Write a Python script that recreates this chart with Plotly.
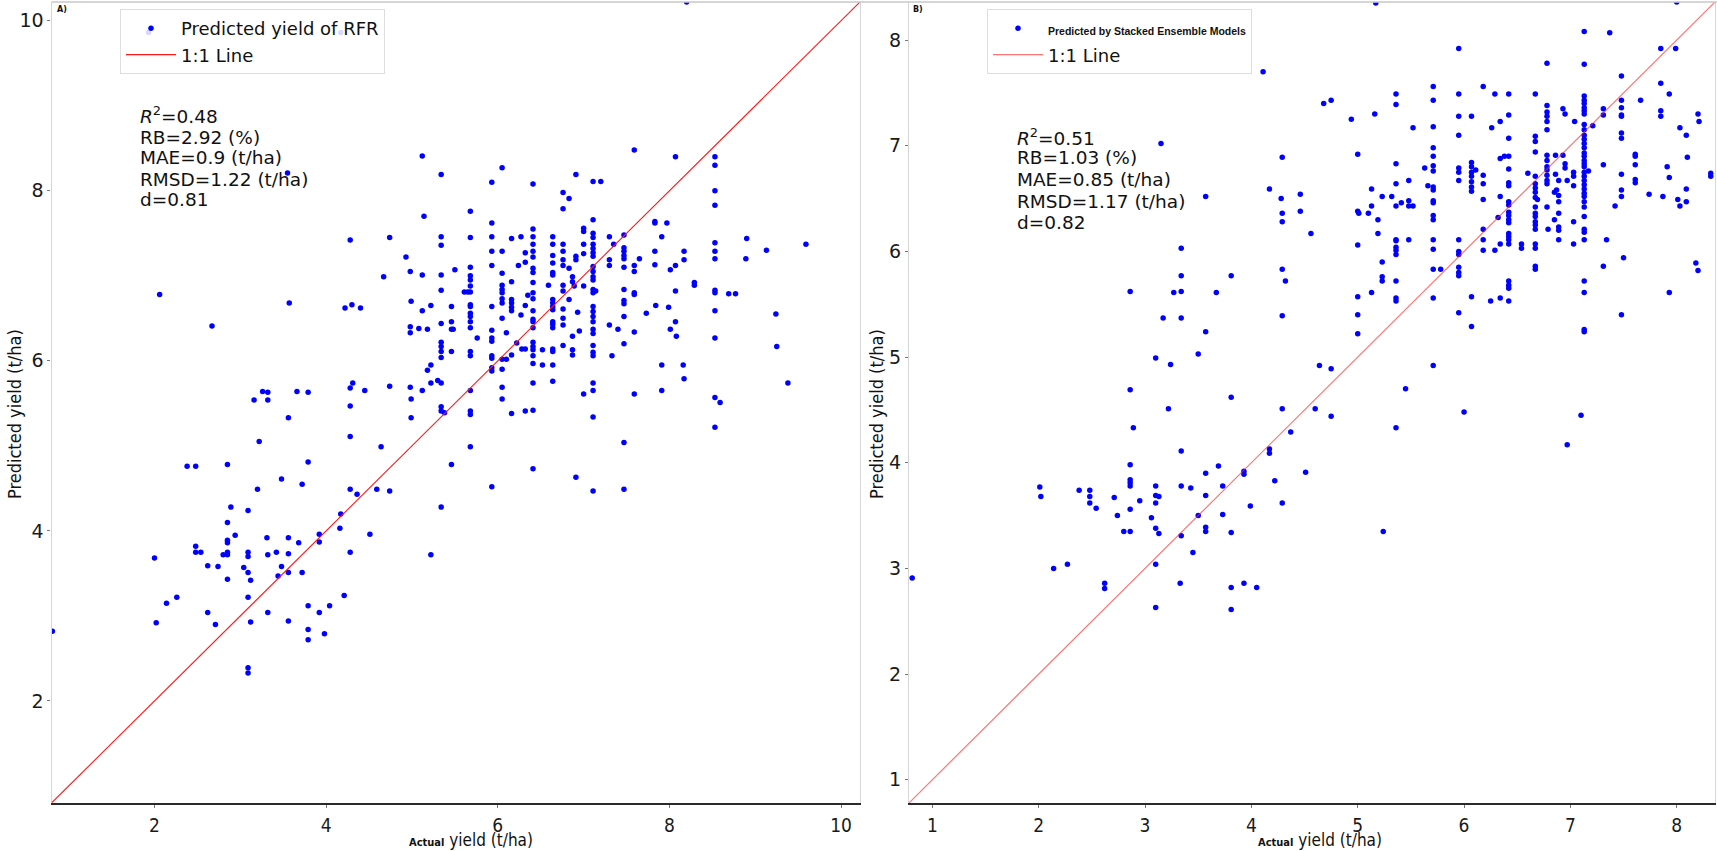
import plotly.graph_objects as go

W, H = 1717, 851

# ---------------- data: panel A (RFR) ----------------
actual_rfr = [
    4.74, 4.67, 4.74, 4.93, 4.98, 4.99, 4.98, 4.98, 4.98, 4.99, 4.99,
    5.12, 5.14, 5.12, 5.12, 5.08, 5.18, 5.22, 5.22, 5.18, 5.22, 5.12,
    5.34, 5.34, 5.34, 5.34, 5.34, 5.34, 5.34, 5.34, 5.34, 5.34, 5.30, 5.34, 5.34, 5.34, 5.38,
    5.46, 5.46, 5.46, 5.48, 5.46, 5.50,
    5.61, 5.65, 5.68, 5.68, 5.68, 5.68, 5.68, 5.68, 5.68, 5.68, 5.68, 5.68, 5.68, 5.68, 5.68, 5.68, 5.68, 5.68, 5.68, 5.68, 5.76,
    5.93, 5.93, 5.93, 5.93, 5.93, 5.93, 5.93, 5.93, 5.93, 5.93, 5.93, 5.93, 5.93,
    6.05, 6.05, 6.05, 6.05, 6.05, 6.05, 6.05, 6.05, 6.05, 6.05, 6.05, 6.05, 6.05, 6.10, 6.10,
    6.16, 6.16, 6.16, 6.16, 6.16, 6.16, 6.16, 6.16, 6.22, 6.27, 6.27, 6.24,
    6.32, 6.32, 6.35, 6.32, 6.32, 6.28, 6.32,
    6.41, 6.41, 6.41, 6.41, 6.41, 6.41, 6.41, 6.41, 6.41, 6.41, 6.41, 6.41, 6.41, 6.41, 6.41, 6.41, 6.41, 6.41, 6.41, 6.41, 6.41, 6.41,
    6.52, 6.52, 6.59,
    6.64, 6.64, 6.64, 6.64, 6.64, 6.64, 6.64, 6.64, 6.64, 6.64, 6.64, 6.64, 6.64, 6.64, 6.64, 6.64, 6.64,
    6.76, 6.76, 6.76, 6.76, 6.76, 6.76, 6.76, 6.76, 6.76, 6.76, 6.76, 6.76, 6.83, 6.83, 6.83,
    6.87, 6.87, 6.89, 6.91, 6.91, 6.91, 6.93, 6.87, 6.87, 6.87, 6.95,
    7.00, 7.00, 7.00, 7.00, 7.00, 7.00,
    7.11, 7.11, 7.11, 7.11, 7.11, 7.11, 7.11, 7.11, 7.11, 7.11, 7.11, 7.11, 7.11, 7.11, 7.11, 7.11, 7.11, 7.11, 7.11, 7.11, 7.11, 7.11, 7.11, 7.11, 7.11, 7.11, 7.20, 7.14,
    7.30, 7.30, 7.30, 7.30, 7.33, 7.35, 7.40,
    7.47, 7.47, 7.47, 7.47, 7.47, 7.47, 7.47, 7.47, 7.47, 7.47, 7.47,
    7.59, 7.59, 7.59, 7.59, 7.59, 7.59, 7.59, 7.65, 7.73,
    7.83, 7.83, 7.83, 7.83, 7.84, 7.91, 7.91, 7.91, 7.97, 7.99,
    8.07, 8.01, 8.07, 8.07, 8.07, 8.01, 8.08, 8.16, 8.17, 8.17, 8.17, 8.29, 8.29,
    8.53, 8.53, 8.53, 8.53, 8.53, 8.53, 8.53, 8.53, 8.53, 8.53, 8.53, 8.53, 8.59, 8.69, 8.77,
    8.90, 8.89, 9.13, 9.24, 9.25, 9.38, 9.59,
    4.64, 5.68, 5.46, 4.74, 5.34, 5.22, 5.93, 6.41, 6.91, 7.11, 7.47, 7.47, 8.53,
    3.26, 3.32, 3.16, 3.32, 3.66, 3.79, 4.28, 4.31, 4.45, 4.28, 3.56, 4.28, 3.22, 3.79,
    2.38, 2.48, 2.85, 3.48, 3.72, 3.20, 4.28, 4.36, 4.59, 2.89, 3.09, 4.17, 2.85, 4.16, 2.94, 3.31, 3.56, 3.68, 3.92, 3.92, 4.51,
    2.85, 2.85, 2.48, 2.48, 2.54, 2.00, 2.80, 2.85, 2.85, 3.09, 3.09, 3.32, 3.42, 3.56, 4.28,
    2.62, 2.74, 3.04, 3.09, 2.85, 3.12, 3.48, 3.44, 3.56, 3.72,
    2.14, 2.26, 3.09, 4.21, 2.62, 3.32, 3.79, 3.92, 4.04, 2.02, 2.71, 3.12, 3.56, 3.79, 3.79, 3.98, 3.09, 3.09, 0.81,
    2.06, 2.67, 3.55, 1.93, 4.17, 3.57, 4.22, 4.30, 4.40, 4.28, 8.20,
]
predicted_rfr = [
    7.45, 6.99, 5.70, 7.22, 7.05, 6.70, 6.40, 6.33, 5.69, 5.55, 5.33,
    8.41, 7.70, 7.01, 6.59, 6.38, 6.37, 6.65, 5.95, 5.89, 5.74, 5.65,
    8.19, 7.46, 7.36, 7.01, 6.83, 6.44, 6.22, 6.17, 6.11, 6.04, 5.77, 5.74, 5.46, 5.41, 5.39,
    6.64, 6.46, 6.37, 6.37, 6.11, 7.07,
    6.81, 6.81, 7.76, 7.45, 7.10, 7.00, 6.95, 6.88, 6.81, 6.66, 6.64, 6.56, 6.52, 6.46, 6.39, 6.11, 6.06, 5.65, 5.41, 5.37, 6.27,
    8.10, 7.62, 7.46, 7.29, 7.12, 6.64, 6.36, 6.27, 6.23, 6.06, 6.03, 5.92, 5.88,
    8.27, 7.29, 7.03, 6.89, 6.84, 6.80, 6.73, 6.68, 6.50, 6.02, 5.90, 5.69, 5.55, 6.33, 6.02,
    7.44, 6.93, 6.72, 6.68, 6.63, 6.59, 6.07, 5.38, 6.21, 7.46, 6.54, 7.12,
    7.27, 7.16, 6.77, 6.65, 6.14, 6.14, 5.41,
    8.08, 7.55, 7.46, 7.37, 7.29, 7.22, 7.09, 7.04, 6.92, 6.80, 6.73, 6.59, 6.49, 6.46, 6.39, 6.22, 6.17, 6.13, 6.06, 5.97, 5.74, 5.42,
    6.13, 5.95, 6.89,
    7.46, 7.37, 7.24, 7.15, 7.04, 7.01, 6.72, 6.68, 6.64, 6.60, 6.46, 6.43, 6.39, 6.14, 6.11, 5.95, 5.76,
    7.98, 7.79, 7.37, 7.29, 7.19, 7.12, 6.89, 6.82, 6.61, 6.50, 6.42, 6.18, 7.91, 7.09, 6.72,
    6.99, 6.93, 6.88, 8.19, 7.23, 7.19, 6.57, 6.29, 6.13, 6.07, 6.35,
    7.56, 7.52, 7.37, 7.26, 6.88, 5.61,
    8.11, 7.66, 7.50, 7.45, 7.37, 7.32, 7.27, 7.23, 7.11, 7.05, 6.99, 6.95, 6.84, 6.80, 6.64, 6.58, 6.52, 6.46, 6.37, 6.32, 6.18, 6.10, 6.06, 5.74, 5.65, 5.34, 8.11, 6.82,
    7.46, 7.19, 7.12, 6.42, 6.06, 7.37, 6.37,
    7.48, 7.33, 7.29, 7.24, 7.20, 7.10, 6.84, 6.71, 6.67, 6.52, 6.20,
    8.48, 7.12, 7.05, 6.80, 6.78, 6.34, 5.61, 7.20, 6.56,
    7.64, 7.62, 7.29, 7.13, 6.65, 7.46, 5.95, 5.65, 7.62, 6.63,
    8.40, 7.07, 7.12, 6.82, 6.46, 6.37, 6.29, 5.95, 7.29, 7.19, 5.79, 6.92, 6.89,
    8.40, 8.30, 8.00, 7.83, 7.39, 7.29, 7.20, 6.83, 6.80, 6.59, 6.27, 5.57, 5.51, 6.79, 6.79,
    7.44, 7.20, 7.30, 6.55, 6.17, 5.74, 7.37,
    4.99, 4.99, 4.78, 4.47, 4.28, 3.72, 4.52, 4.73, 4.63, 4.47, 5.04, 4.49, 5.22,
    5.64, 5.63, 5.54, 5.54, 5.64, 5.63, 5.68, 5.74, 5.65, 5.47, 5.33, 5.11, 5.05, 4.81,
    4.76, 4.76, 4.78, 4.61, 4.55, 4.49, 4.49, 4.43, 4.49, 4.28, 4.24, 4.20, 4.10, 4.03, 3.95, 3.92, 3.92, 3.86, 3.96, 3.87, 3.96,
    3.89, 3.86, 3.82, 3.75, 3.75, 3.68, 3.72, 3.75, 3.72, 3.75, 3.70, 3.72, 3.75, 3.73, 3.75,
    3.59, 3.58, 3.57, 3.51, 3.43, 3.42, 3.58, 3.47, 3.51, 3.51,
    3.15, 3.22, 3.22, 3.24, 3.04, 3.04, 3.12, 3.04, 3.12, 2.92, 2.90, 2.93, 2.94, 2.84, 2.72, 2.79, 2.39, 2.33, 2.82,
    6.78, 6.41, 8.21, 9.86, 9.86, 6.68, 6.62, 6.66, 6.62, 7.42, 10.22,
]

# ---------------- data: panel B (stacked ensemble) ----------------
actual_stack = [
    7.13, 7.37, 5.95, 7.85, 7.99, 6.78, 7.13, 7.48, 7.85, 7.93, 5.71, 6.18, 5.36, 5.95, 6.29, 6.42, 6.67, 4.68, 4.75, 5.36, 5.71,
    7.13, 7.13, 7.13, 7.13, 7.13, 7.13, 6.78, 6.78, 6.78, 6.78, 6.78, 6.93, 6.95, 7.31, 7.31,
    7.48, 7.48, 7.48, 7.48, 7.66, 7.85, 7.85, 8.20, 8.21, 4.94, 5.16, 5.95, 6.07, 6.42, 6.34, 5.52, 5.71, 5.95, 6.26, 6.42, 7.04,
    7.13, 7.13, 7.13, 7.13, 7.13, 7.21, 8.03, 8.09, 7.48, 7.48, 6.67, 6.67, 6.67,
    4.29, 5.00, 5.71, 5.71, 5.36, 5.63, 5.71, 5.71, 6.07, 6.07, 5.95, 5.95, 5.95,
    6.07, 6.07, 6.07, 6.07, 6.07, 6.11, 6.18, 6.18, 6.34, 6.38, 6.42, 6.42, 6.42, 6.42, 6.60, 6.67, 6.67, 6.67, 6.67, 6.67, 6.69,
    6.78, 6.78, 6.78, 6.78, 6.78, 6.78, 6.78, 6.86, 6.93, 6.95, 6.95, 6.86, 6.89, 6.97, 7.03, 7.03, 7.03,
    7.13, 7.13, 7.13, 7.13, 7.13, 7.13, 7.13, 7.13, 7.13, 7.13, 7.13, 7.13, 7.13, 7.13, 7.13, 7.17, 7.31, 7.48, 7.61, 7.61, 7.61, 7.61, 7.61, 7.48, 7.48, 7.91, 7.93, 8.10, 8.09, 8.32, 8.32,
    4.28, 4.29, 4.29, 4.46, 4.46, 4.56, 5.00, 5.01, 5.10, 5.13, 5.13, 5.19, 5.19, 5.23, 5.32, 5.36, 5.36, 5.41, 5.48, 5.48, 5.48, 5.52, 5.66, 5.71, 5.71, 5.71, 5.71, 5.71, 5.71, 6.18, 6.34,
    6.42, 6.42, 6.42, 6.42, 6.42, 6.42, 6.32, 6.67, 6.67, 6.67, 6.67, 6.67, 6.67, 6.78, 6.85, 6.87, 6.89, 6.89, 6.85, 6.89, 7.03, 7.13, 7.42, 7.74, 7.87, 8.01, 8.03, 8.09,
    5.00, 5.36, 5.36, 5.36, 5.36, 5.36, 5.48, 5.71, 5.71, 5.95, 5.95, 5.95, 6.18, 6.18, 6.18, 6.29, 6.34, 6.42, 6.42, 6.42, 6.42, 6.54, 6.54, 6.67, 6.67, 6.79, 6.89, 6.89, 6.89, 7.03, 7.13, 7.13, 7.13, 7.34, 7.50, 7.31, 8.18, 8.20,
    4.29, 4.32, 5.00, 5.00, 5.00, 5.13, 5.23, 5.23, 5.23, 5.36, 5.36, 5.36, 5.71, 5.78, 5.71, 5.95, 5.95, 5.95, 5.95, 6.07, 6.07, 6.25, 6.34, 6.42, 6.42, 6.42, 6.42, 6.67, 6.67, 7.13, 7.13, 7.13, 7.13, 7.48, 7.93, 4.29, 4.64, 4.75, 5.71,
    3.15, 3.57, 3.34, 3.34, 3.81, 2.86, 3.27, 3.34, 3.67, 3.17, 3.34, 3.57, 3.10, 3.24, 3.50, 2.86, 3.81, 3.22, 2.89, 3.34,
    2.86, 2.86, 2.86, 2.86, 2.71, 2.95, 2.86, 2.74, 2.80, 2.86, 3.10, 3.10, 3.13, 3.10, 3.06, 3.10, 3.13, 3.34, 3.43, 3.34, 3.50,
    3.57, 3.57, 3.57, 3.57, 3.69, 3.73, 3.73, 3.81, 3.93, 3.93, 3.99, 4.17, 4.17, 4.22, 4.29, 4.37, 4.29, 4.51, 4.60, 4.75, 5.24, 5.36, 4.17,
    0.81, 2.01, 2.02, 2.14, 2.27, 2.38, 2.48, 2.48, 2.48, 2.54, 2.62, 2.62, 3.45, 3.10, 3.33, 3.10, 3.81, 3.93, 4.05, 3.81, 4.11, 5.17, 8.00, 6.00, 7.10, 6.97, 5.45,
]
predicted_stack = [
    8.08, 8.07, 7.92, 7.92, 7.92, 7.78, 7.77, 7.66, 7.59, 7.49, 7.56, 7.56, 7.49, 7.49, 7.49, 7.49, 7.49, 7.40, 7.43, 7.39, 7.43,
    7.47, 7.43, 7.40, 7.36, 7.33, 7.30, 7.38, 7.32, 7.28, 7.23, 7.15, 7.35, 7.30, 7.35, 7.29,
    7.43, 7.36, 7.29, 7.28, 7.43, 7.33, 7.28, 7.30, 7.23, 7.25, 7.30, 7.28, 7.28, 7.29, 7.23, 7.17, 7.18, 7.10, 7.17, 7.07, 7.23,
    7.20, 7.15, 7.10, 7.06, 7.02, 7.19, 7.17, 7.10, 7.12, 7.07, 7.09, 7.04, 6.94,
    6.89, 6.92, 6.98, 6.90, 6.83, 6.79, 6.81, 6.76, 6.84, 6.80, 6.79, 6.75, 6.67,
    6.75, 6.71, 6.66, 6.61, 6.57, 6.77, 6.72, 6.64, 6.88, 6.90, 6.90, 6.78, 6.65, 6.62, 6.74, 6.71, 6.64, 6.60, 6.56, 6.51, 6.49,
    6.91, 6.86, 6.80, 6.77, 6.72, 6.67, 6.64, 6.91, 6.91, 6.83, 6.79, 6.73, 6.67, 6.67, 6.75, 6.71, 6.62,
    6.98, 6.93, 6.90, 6.86, 6.83, 6.80, 6.75, 6.71, 6.67, 6.63, 6.59, 6.55, 6.52, 6.47, 6.42, 6.76, 6.82, 6.73, 6.92, 6.90, 6.82, 6.68, 6.65, 6.58, 6.52, 6.80, 6.70, 6.89, 6.59, 6.74, 6.71,
    6.50, 6.36, 6.28, 6.54, 6.38, 6.17, 6.38, 6.36, 6.36, 6.59, 6.43, 6.30, 6.17, 6.52, 6.52, 6.64, 6.43, 6.46, 6.67, 6.48, 6.43, 6.43, 6.62, 6.61, 6.58, 6.48, 6.46, 6.34, 6.30, 6.49, 6.52,
    6.47, 6.44, 6.37, 6.34, 6.30, 6.27, 6.32, 6.42, 6.36, 6.33, 6.28, 6.25, 6.21, 6.42, 6.56, 6.58, 6.53, 6.47, 6.30, 6.36, 6.28, 6.33, 6.43, 6.54, 6.52, 6.49, 6.43, 6.47,
    6.06, 6.11, 6.10, 6.04, 6.01, 5.97, 6.11, 6.11, 6.02, 6.11, 6.00, 5.97, 6.21, 6.11, 6.01, 6.01, 6.07, 6.17, 6.14, 6.11, 6.07, 6.07, 6.03, 6.07, 6.03, 6.21, 6.23, 6.20, 6.11, 6.07, 6.21, 6.18, 6.11, 6.11, 5.94, 5.86, 5.89, 5.82,
    5.83, 5.72, 5.57, 5.40, 5.22, 5.61, 5.90, 5.76, 5.72, 5.72, 5.56, 5.53, 5.83, 5.83, 5.56, 5.85, 5.80, 5.77, 5.42, 5.57, 5.29, 5.53, 5.56, 5.72, 5.68, 5.65, 5.53, 5.86, 5.83, 5.72, 5.61, 5.26, 5.24, 5.40, 5.61, 5.39, 4.92, 4.89, 4.92,
    7.02, 6.52, 6.03, 5.77, 5.77, 5.62, 5.61, 5.62, 5.61, 5.37, 5.37, 5.24, 4.99, 4.93, 5.03, 4.69, 4.62, 4.51, 4.33, 4.11,
    3.98, 3.84, 3.81, 3.78, 3.67, 3.64, 3.56, 3.50, 3.35, 3.35, 3.78, 3.69, 3.68, 3.62, 3.48, 3.38, 3.33, 3.78, 3.76, 3.31, 3.50,
    3.90, 3.69, 3.39, 3.35, 3.97, 3.78, 3.51, 3.34, 3.92, 3.89, 3.59, 4.13, 4.09, 3.83, 4.51, 4.29, 3.62, 3.91, 4.51, 4.44, 3.35, 4.33, 6.59,
    2.91, 3.77, 3.68, 3.00, 3.04, 3.74, 3.74, 3.68, 3.62, 3.57, 2.86, 2.81, 3.15, 3.04, 2.86, 2.63, 2.82, 2.86, 2.82, 2.61, 7.70, 8.35, 8.36, 4.48, 4.45, 4.17, 4.70,
]

assert len(actual_rfr) == len(predicted_rfr), (len(actual_rfr), len(predicted_rfr))
assert len(actual_stack) == len(predicted_stack), (len(actual_stack), len(predicted_stack))

range_a = [0.8, 10.22]
range_b = [0.78, 8.36]
ticks_a = [2, 4, 6, 8, 10]
ticks_b = [1, 2, 3, 4, 5, 6, 7, 8]

stats_a = ["<i>R</i><sup>2</sup>=0.48", "RB=2.92 (%)", "MAE=0.9 (t/ha)", "RMSD=1.22 (t/ha)", "d=0.81"]
stats_b = ["<i>R</i><sup>2</sup>=0.51", "RB=1.03 (%)", "MAE=0.85 (t/ha)", "RMSD=1.17 (t/ha)", "d=0.82"]

FONT = "DejaVu Sans"
COND = "DejaVu Sans Condensed, Liberation Sans Narrow, DejaVu Sans"

fig = go.Figure()

fig.add_trace(go.Scatter(
    x=actual_rfr, y=predicted_rfr, mode="markers", name="Predicted yield of RFR",
    marker=dict(color="#0000ff", size=5.5), xaxis="x", yaxis="y", legend="legend"))
fig.add_trace(go.Scatter(
    x=range_a, y=range_a, mode="lines", name="1:1 Line",
    line=dict(color="#ff1a1a", width=1.1), xaxis="x", yaxis="y", legend="legend"))

fig.add_trace(go.Scatter(
    x=actual_stack, y=predicted_stack, mode="markers",
    name="<span style='font-size:10.5px;font-family:Liberation Sans'><b>Predicted by Stacked Ensemble Models</b></span>",
    marker=dict(color="#0000ff", size=5.5), xaxis="x2", yaxis="y2", legend="legend2"))
fig.add_trace(go.Scatter(
    x=range_b, y=range_b, mode="lines", name="1:1 Line",
    line=dict(color="rgba(255,40,40,0.65)", width=1.2), xaxis="x2", yaxis="y2", legend="legend2"))

dom_ya = [1 - 803 / H, 1 - 2 / H]
dom_a = [51.5 / W, 860 / W]
dom_b = [909 / W, 1715 / W]

xcommon = dict(showgrid=False, zeroline=False, showline=True, linecolor="#2a2a2a", linewidth=1.6,
               ticks="outside", ticklen=3, tickcolor="#777", automargin=False, ticklabelstandoff=1,
               tickfont=dict(family=COND, size=19, color="#1a1a1a"))
ycommon = dict(showgrid=False, zeroline=False, showline=True, linecolor="#d6d6d6", linewidth=1.2,
               mirror=True, ticks="outside", ticklen=3, tickcolor="#777", automargin=False,
               tickfont=dict(family=FONT, size=19, color="#1a1a1a"))

fig.update_layout(
    width=W, height=H, autosize=False,
    margin=dict(l=0, r=0, t=0, b=0),
    paper_bgcolor="white", plot_bgcolor="white",
    xaxis=dict(domain=dom_a, range=range_a, tickvals=ticks_a, anchor="y", **xcommon),
    yaxis=dict(domain=dom_ya, range=range_a, tickvals=ticks_a, anchor="x", **ycommon),
    xaxis2=dict(domain=dom_b, range=range_b, tickvals=ticks_b, anchor="y2", **xcommon),
    yaxis2=dict(domain=dom_ya, range=range_b, tickvals=ticks_b, anchor="x2", **ycommon),
    legend=dict(x=120 / W, y=1 - 9 / H, xanchor="left", yanchor="top",
                bgcolor="rgba(255,255,255,0.85)", bordercolor="#dedede", borderwidth=1,
                font=dict(family=FONT, size=18, color="#111"), itemwidth=50, traceorder="normal"),
    legend2=dict(x=987 / W, y=1 - 9 / H, xanchor="left", yanchor="top",
                 bgcolor="rgba(255,255,255,0.85)", bordercolor="#dedede", borderwidth=1,
                 font=dict(family=FONT, size=18, color="#111"), itemwidth=50, traceorder="normal"),
    showlegend=True,
)

fig.add_shape(type="line", xref="paper", yref="paper", x0=51.5 / W, x1=1, y0=1 - 2 / H, y1=1 - 2 / H,
              line=dict(color="#c8c8c8", width=1.5))

ann = []
for t, yy in zip(stats_a, [115, 137, 158, 180, 200]):
    ann.append(dict(x=138 / W, y=1 - yy / H, text=t, xanchor="left", yanchor="middle"))
for t, yy in zip(stats_b, [137, 158, 180, 201, 222]):
    ann.append(dict(x=1015 / W, y=1 - yy / H, text=t, xanchor="left", yanchor="middle"))
for a in ann:
    a.update(xref="paper", yref="paper", showarrow=False,
             font=dict(family=FONT, size=18.5, color="#111"))

ann.append(dict(x=55 / W, y=1 - 10 / H, text="<b>A)</b>", xref="paper", yref="paper", showarrow=False,
                xanchor="left", yanchor="middle", font=dict(family=FONT, size=8, color="#111")))
ann.append(dict(x=911 / W, y=1 - 10 / H, text="<b>B)</b>", xref="paper", yref="paper", showarrow=False,
                xanchor="left", yanchor="middle", font=dict(family=FONT, size=8, color="#111")))

for xc in [471, 1320]:
    ann.append(dict(x=xc / W, y=0, xref="paper", yref="paper", showarrow=False,
                    xanchor="center", yanchor="bottom", borderpad=0,
                    text="<span style='font-size:11px'><b>Actual</b></span> yield (t/ha)",
                    font=dict(family=COND, size=17, color="#111")))
for xc in [14, 876]:
    ann.append(dict(x=xc / W, y=1 - 414 / H, xref="paper", yref="paper", showarrow=False,
                    xanchor="center", yanchor="middle", textangle=-90,
                    text="Predicted yield (t/ha)",
                    font=dict(family=COND, size=18, color="#111")))

fig.update_layout(annotations=ann)

fig.write_html("out.html", config={"displayModeBar": False},
               post_script="document.body.style.margin='0';document.body.style.overflow='hidden';")
